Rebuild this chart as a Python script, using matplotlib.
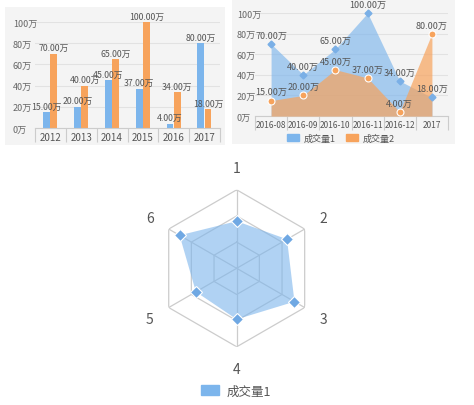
import numpy as np
import matplotlib
matplotlib.use('Agg')
import matplotlib.pyplot as plt
from matplotlib.patches import Rectangle, Patch

plt.rcParams['font.family'] = ['Noto Sans CJK SC', 'DejaVu Sans']

# ---------------- data ----------------
bar_years = ['2012', '2013', '2014', '2015', '2016', '2017']
bar_s1 = [15, 20, 45, 37, 4, 80]
bar_s2 = [70, 40, 65, 100, 34, 18]

area_months = ['2016-08', '2016-09', '2016-10', '2016-11', '2016-12', '2017']
area_s1 = [70, 40, 65, 100, 34, 18]
area_s2 = [15, 20, 45, 37, 4, 80]

yticks = [0, 20, 40, 60, 80, 100]
series_names = ['成交量1', '成交量2']

radar_labels = ['1', '2', '3', '4', '5', '6']
radar_vals = [60, 74, 85, 65, 60, 84]

BLUE = '#7cb5ec'
ORANGE = '#f7a35c'
W, H = 474, 406

fig = plt.figure(figsize=(W / 100, H / 100), dpi=100)


def rect(x0, y0, x1, y1):
    return [x0 / W, 1 - y1 / H, (x1 - x0) / W, (y1 - y0) / H]


def panel(x0, y0, x1, y1):
    r = rect(x0, y0, x1, y1)
    fig.add_artist(Rectangle((r[0], r[1]), r[2], r[3], transform=fig.transFigure,
                             facecolor='#f4f4f4', edgecolor='none', zorder=0))


panel(5, 8, 225, 146)
panel(232, 0, 455, 145)


def style(ax, cats, pad, xfs):
    ax.set_facecolor('none')
    ax.set_xlim(-0.5, len(cats) - 0.5)
    ax.set_ylim(0, 100)
    ax.set_yticks(yticks)
    ax.set_yticklabels([f'{v}万' for v in yticks])
    for s in ['top', 'right', 'left']:
        ax.spines[s].set_visible(False)
    ax.spines['bottom'].set_color('#cccccc')
    ax.spines['bottom'].set_linewidth(0.8)
    ax.tick_params(axis='y', length=0, pad=pad, labelsize=6.5, labelcolor='#666666')
    for t in ax.get_yticklabels():
        t.set_ha('left')
    ax.set_xticks(np.arange(len(cats)))
    ax.set_xticklabels(cats)
    ax.tick_params(axis='x', which='major', length=0, labelsize=xfs, labelcolor='#555555', pad=3)
    ax.set_xticks(np.arange(len(cats) + 1) - 0.5, minor=True)
    ax.tick_params(axis='x', which='minor', length=10, color='#cccccc', width=0.8)
    ax.grid(axis='y', color='#e2e2e2', lw=0.8)
    ax.set_axisbelow(True)


# ---------------- bar chart ----------------
ax1 = fig.add_axes(rect(35, 23, 220, 129))
style(ax1, bar_years, 16, 7)
x = np.arange(len(bar_years))
bw = 0.22
b1 = ax1.bar(x - 0.12, bar_s1, bw, color=BLUE, zorder=2)
b2 = ax1.bar(x + 0.11, bar_s2, bw, color=ORANGE, zorder=2)
ax1.bar_label(b1, labels=[f'{v:.2f}万' for v in bar_s1], padding=1, fontsize=6.3, color='#555555')
ax1.bar_label(b2, labels=[f'{v:.2f}万' for v in bar_s2], padding=1, fontsize=6.3, color='#555555')

# ---------------- area chart ----------------
ax2 = fig.add_axes(rect(255, 14, 448, 117))
style(ax2, area_months, 13, 6)
x2 = np.arange(len(area_months))
ax2.fill_between(x2, 0, area_s1, color=BLUE, alpha=0.65, lw=0, zorder=2)
ax2.fill_between(x2, 0, area_s2, color=ORANGE, alpha=0.7, lw=0, zorder=3)
ax2.plot(x2, area_s1, 'D', ms=3.5, color='#7aafe6', zorder=4, clip_on=False)
ax2.plot(x2, area_s2, 'o', ms=5, color=ORANGE, mec='white', mew=0.8, zorder=4, clip_on=False)
for xi, v in zip(x2, area_s1):
    ax2.annotate(f'{v:.2f}万', (xi, v), xytext=(0, 3), textcoords='offset points',
                 ha='center', va='bottom', fontsize=6.5, color='#555555', zorder=5)
for xi, v in zip(x2, area_s2):
    ax2.annotate(f'{v:.2f}万', (xi, v), xytext=(0, 3), textcoords='offset points',
                 ha='center', va='bottom', fontsize=6.5, color='#555555', zorder=5)
fig.legend(handles=[Patch(color=BLUE, label=series_names[0]),
                    Patch(color=ORANGE, label=series_names[1])],
           loc='center', bbox_to_anchor=(341 / W, 1 - 139 / H), ncol=2, frameon=False,
           fontsize=6.5, handlelength=1.3, handleheight=0.9, columnspacing=1.2,
           handletextpad=0.5, labelcolor='#555555')

# ---------------- radar chart ----------------
cx, cy, R = 236.7, 269.3, 78.5
ax3 = fig.add_axes(rect(cx - R, cy - R, cx + R, cy + R), projection='polar')
ax3.set_theta_zero_location('N')
ax3.set_theta_direction(-1)
ax3.set_ylim(0, 100)
ax3.set_axis_off()
ang = np.arange(len(radar_labels)) * 2 * np.pi / len(radar_labels)
ang_c = np.append(ang, ang[0])
for r in [100 / 3, 200 / 3, 100]:
    ax3.plot(ang_c, [r] * len(ang_c), color='#cccccc', lw=0.9, zorder=1)
for a in ang:
    ax3.plot([a, a], [0, 100], color='#cccccc', lw=0.9, zorder=1)
vals_c = np.append(radar_vals, radar_vals[0])
ax3.fill(ang_c, vals_c, color=BLUE, alpha=0.6, lw=0, zorder=2)
ax3.plot(ang, radar_vals, 'D', ms=6, color='#6fa8e3', mec='white', mew=0.8, zorder=3, clip_on=False)
for a, lab in zip(ang, radar_labels):
    ax3.text(a, 128, lab, ha='center', va='center', fontsize=10, color='#555555', clip_on=False)
fig.legend(handles=[Patch(color=BLUE, label=series_names[0])],
           loc='center', bbox_to_anchor=(236 / W, 1 - 392 / H), frameon=False,
           fontsize=9, handlelength=1.4, handleheight=0.9, handletextpad=0.6,
           labelcolor='#555555')

fig.savefig('out.png', dpi=100)
